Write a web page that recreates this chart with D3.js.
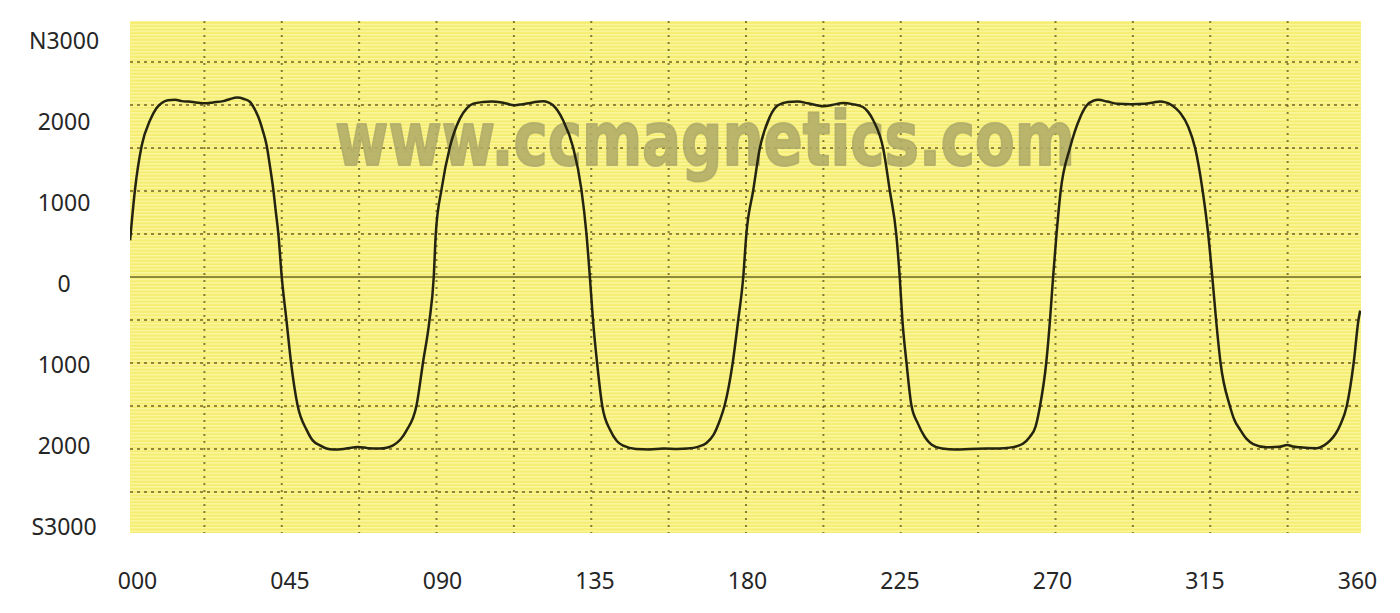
<!DOCTYPE html>
<html>
<head>
<meta charset="utf-8">
<script src="https://cdn.jsdelivr.net/npm/d3@7"></script>
<style>
  html, body { margin: 0; padding: 0; background: #fff; }
  svg { display: block; }
</style>
</head>
<body>
<svg id="chart" width="1400" height="613"></svg>
<script>
// ---- data (angle in degrees, flux in gauss; + = N, - = S) ----
const angles = [
  0.9, 2.3, 4.3, 6.7, 8.5, 10.1, 11.9, 14, 16, 18, 20, 22.7, 25, 28, 30, 32, 34, 35.8, 37, 38.2, 39.5, 40.6, 41.6, 42.5, 43.3, 44.0, 45.0,
  46.4, 47.7, 49.6, 52.3, 54, 56.1, 58, 60, 63, 67.2, 70, 73.5, 75.5, 77.4, 79.5, 81.3, 84.2, 86.1, 87.9, 89.2,
  89.8, 91.5, 93.9, 96.8, 98.8, 100.7, 103.6, 106, 109, 112.8, 115, 118, 121, 122.5, 123.9, 125.3, 126.8, 129.7, 132.1, 133.6, 134.6,
  135.5, 136.7, 138.2, 140.5, 142.5, 144.5, 148, 152, 156, 160, 163, 166, 168.5, 170.5, 172.4, 173.8, 176.1, 177.7, 179.2,
  180.1, 182.1, 184.0, 186.9, 189.3, 192.2, 195, 198, 202.5, 205, 208.3, 211, 214.0, 215.5, 217.0, 219.9, 221.8, 223.7, 224.7,
  225.5, 226.7, 228.1, 230.0, 232, 234, 237, 241, 245, 250, 255, 258, 260.5, 262.5, 264.2, 265.5, 267.3, 268.4, 269.3,
  270.3, 271.5, 274.2, 277.1, 279, 281, 282.5, 285, 288, 292, 296, 298.5, 300.4, 302, 303.3, 305, 306.4, 308.6, 310.6, 312.8, 314.4, 315.6,
  316.7, 318.0, 320.7, 322, 323.6, 325.5, 327.5, 331.4, 335, 337.4, 339, 341.1, 346.0, 348, 349.9, 351.5, 352.8, 354.7, 356.7, 358.1, 358.6
];
const flux = [
  427, 1008, 1531, 1822, 1960, 2023, 2055, 2060, 2045, 2040, 2030, 2020, 2030, 2045, 2070, 2086, 2070, 2035, 1960, 1860, 1700, 1531, 1280, 1031, 750, 508, 0,
  -512, -995, -1492, -1783, -1900, -1957, -1995, -2007, -2000, -1977, -1990, -1995, -1985, -1957, -1890, -1783, -1492, -988, -523, 0,
  508, 1028, 1512, 1842, 1960, 2016, 2035, 2040, 2030, 1997, 2010, 2030, 2043, 2030, 1997, 1930, 1822, 1512, 1028, 505, 0,
  -500, -1000, -1500, -1780, -1910, -1965, -2000, -2005, -1995, -2000, -1995, -1975, -1930, -1840, -1666, -1492, -1007, -512, 0,
  497, 1008, 1493, 1860, 1997, 2035, 2040, 2020, 1985, 2000, 2023, 2010, 1977, 1920, 1822, 1493, 1008, 497, 0,
  -512, -1007, -1492, -1705, -1860, -1950, -1995, -2005, -2000, -1995, -1990, -1975, -1940, -1860, -1740, -1500, -1000, -500, 0,
  500, 1000, 1500, 1850, 1990, 2050, 2060, 2040, 2015, 2010, 2015, 2030, 2040, 2030, 2010, 1960, 1900, 1747, 1500, 1000, 500, 0,
  -500, -1000, -1500, -1660, -1770, -1880, -1942, -1980, -1975, -1954, -1970, -1980, -1990, -1960, -1900, -1820, -1720, -1500, -1000, -500, -390
];

const xTickValues = [0, 45, 90, 135, 180, 225, 270, 315, 360];
const xTickLabels = ["000", "045", "090", "135", "180", "225", "270", "315", "360"];
const yTickValues = [3000, 2000, 1000, 0, -1000, -2000, -3000];
const yTickLabels = ["N3000", "2000", "1000", "0", "1000", "2000", "S3000"];
const xGridValues = [22.5, 45, 67.5, 90, 112.5, 135, 157.5, 180, 202.5, 225, 247.5, 270, 292.5, 315, 337.5];
const yGridValues = [2500, 2000, 1500, 1000, 500, -500, -1000, -1500, -2000, -2500];
const watermark = "www.ccmagnetics.com";

// ---- layout ----
const svg = d3.select("#chart");
const plot = { left: 130, right: 1361, top: 21, bottom: 533 };

const x = d3.scaleLinear().domain([0, 360]).range([127, 1365]);
const y = d3.scaleLinear().domain([-3000, 3000]).range([535, 19]);
// label positions (printed scale offset from the paper grid)
const xLab = d3.scaleLinear().domain([0, 360]).range([137, 1357]);
const yLab = d3.scaleLinear().domain([-3000, 3000]).range([526, 40]);

// background pattern (scan-line texture)
const defs = svg.append("defs");
const pat = defs.append("pattern").attr("id", "stripes")
  .attr("patternUnits", "userSpaceOnUse").attr("width", 10).attr("height", 3.4);
pat.append("rect").attr("width", 10).attr("height", 3.4).attr("fill", "#f5ed6e");
pat.append("rect").attr("y", 0).attr("width", 10).attr("height", 1.4).attr("fill", "#fbf6a4");
defs.append("clipPath").attr("id", "clip").append("rect")
  .attr("x", plot.left).attr("y", plot.top)
  .attr("width", plot.right - plot.left).attr("height", plot.bottom - plot.top);

svg.append("rect")
  .attr("x", plot.left).attr("y", plot.top)
  .attr("width", plot.right - plot.left).attr("height", plot.bottom - plot.top)
  .attr("fill", "url(#stripes)");

const g = svg.append("g").attr("clip-path", "url(#clip)");

// horizontal dashed grid
g.selectAll(".hgrid").data(yGridValues).enter().append("line")
  .attr("x1", plot.left).attr("x2", plot.right)
  .attr("y1", d => y(d)).attr("y2", d => y(d))
  .attr("stroke", "#7e6a26").attr("stroke-width", 2)
  .attr("stroke-dasharray", "3,4").attr("opacity", 0.8);

// vertical dashed grid
g.selectAll(".vgrid").data(xGridValues).enter().append("line")
  .attr("x1", d => x(d)).attr("x2", d => x(d))
  .attr("y1", plot.top).attr("y2", plot.bottom)
  .attr("stroke", "#666222").attr("stroke-width", 2)
  .attr("stroke-dasharray", "2,5").attr("opacity", 0.8);

// zero line
g.append("line")
  .attr("x1", plot.left).attr("x2", plot.right)
  .attr("y1", y(0)).attr("y2", y(0))
  .attr("stroke", "#8c8a3c").attr("stroke-width", 2.2);

// watermark
g.append("text")
  .attr("x", 335).attr("y", 165)
  .attr("textLength", 740).attr("lengthAdjust", "spacingAndGlyphs")
  .attr("font-family", "'DejaVu Sans', Arial, sans-serif")
  .attr("font-weight", "bold").attr("font-size", 74)
  .attr("fill", "#b1ac68").attr("fill-opacity", 0.88)
  .attr("stroke", "#b1ac68").attr("stroke-opacity", 0.88)
  .attr("stroke-width", 2).attr("stroke-linejoin", "round")
  .text(watermark);

// curve
const pts = angles.map((a, i) => [a, flux[i]]);
const line = d3.line().x(d => x(d[0])).y(d => y(d[1])).curve(d3.curveMonotoneX);
g.append("path").datum(pts)
  .attr("d", line)
  .attr("fill", "none")
  .attr("stroke", "#24240f")
  .attr("stroke-width", 2.5)
  .attr("stroke-linejoin", "round");

// axes (labels only)
const fontFam = "'Noto Sans', 'Open Sans', sans-serif";
const yAxis = d3.axisLeft(yLab).tickValues(yTickValues)
  .tickFormat((d, i) => yTickLabels[i]).tickSize(0);
const ya = svg.append("g").attr("transform", "translate(64,0)").call(yAxis);
ya.select(".domain").remove();
ya.selectAll("text")
  .attr("x", 0).attr("text-anchor", "middle").attr("dy", "0.35em")
  .attr("font-family", fontFam).attr("font-size", 23).attr("fill", "#262626");

const xAxis = d3.axisBottom(xLab).tickValues(xTickValues)
  .tickFormat((d, i) => xTickLabels[i]).tickSize(0);
const xa = svg.append("g").attr("transform", "translate(0,581)").call(xAxis);
xa.select(".domain").remove();
xa.selectAll("text")
  .attr("y", 0).attr("dy", "0.35em")
  .attr("font-family", fontFam).attr("font-size", 23).attr("fill", "#262626");
</script>
</body>
</html>
